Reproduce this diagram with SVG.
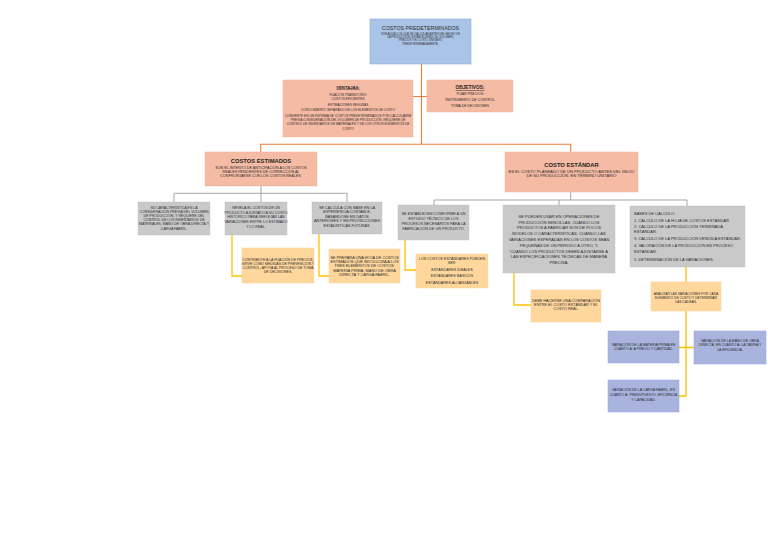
<svg xmlns="http://www.w3.org/2000/svg" width="768" height="543" viewBox="0 0 768 543">
<style>
text{font-family:"Liberation Sans",Arial,sans-serif;fill:#2c2c2c;text-anchor:middle}
.top{fill:#a9c4e6;stroke:#8fb0da;stroke-width:0.6}
.sal{fill:#f6bba4;stroke:#f0a98c;stroke-width:0.4}
.gry{fill:#c9c9c9;stroke:#bdbdbd;stroke-width:0.4}
.yel{fill:#ffd79c;stroke:#f7c985;stroke-width:0.4}
.blu{fill:#a8b4de;stroke:#94a3d4;stroke-width:0.5}
.t1{font-size:5.3px}
.tb{font-size:5.8px;font-weight:bold;fill:#222}
.th{font-size:4.2px;font-weight:bold;text-decoration:underline;fill:#222}
.th2{font-size:4.8px;font-weight:bold;text-decoration:underline;fill:#222}
.s28{font-size:2.75px}
.s32{font-size:3.2px}
.s33{font-size:3.3px}
.s35{font-size:3.5px}
.s36{font-size:3.6px}
.s37{font-size:3.7px}
.s38{font-size:3.8px}
.s39{font-size:3.9px}
.s40{font-size:4px}
.s41{font-size:4.1px}
.lft{text-anchor:start}
.co{fill:none;stroke:#ed7d31;stroke-width:1.1}
.cg{fill:none;stroke:#a5a5a5;stroke-width:1}
.cy{fill:none;stroke:#ffc000;stroke-width:1.3}
</style>
<rect width="768" height="543" fill="#ffffff"/>
<g id="connectors">
<path class="co" d="M421.5,64 V144.3 M413,96.5 H427 M260.7,152 V144.3 H570.7 V152"/>
<path class="cg" d="M261,186 V202 M174,202 V193.3 H347 V202"/>
<path class="cg" d="M570.7,192 V200 M434,205 V200 H687 V206 M559,200 V205"/>
<path class="cy" d="M232,235 V276 H242 M319,234 V276 H329 M405,240 V270 H416 M514,273 V305 H531"/>
<path class="cy" d="M686,267 V282 M686,311 V396 H679 M679,347.5 H694"/>
</g>
<g id="n-predeterminados">
<rect class="top" x="370" y="19" width="101" height="45"/>
<text class="t1" x="420.5" y="30.3">COSTOS PREDETERMINADOS</text>
<text class="s28" x="420.5" y="35">SON AQUELLOS QUE SE CALCULAN ANTES DEL HECHO DE</text>
<text class="s28" x="420.5" y="38.2">LA PRODUCCIÓN, ESTABLECIENDO EL VOLUMEN,</text>
<text class="s28" x="420.5" y="41.4">PRECIOS Y EL COSTO UNITARIO</text>
<text class="s28" x="420.5" y="45">PREDETERMINADAMENTE.</text>
</g>
<g id="n-ventajas">
<rect class="sal" x="283" y="80" width="130" height="57"/>
<text class="th" x="348" y="88.5">VENTAJAS:</text>
<text class="s32" x="348" y="96">FIJACIÓN TRANSITORIO</text>
<text class="s32" x="348" y="100.3">COSTOS EFICIENTES</text>
<text class="s32" x="348" y="106">ESTIMACIONES SEGURAS</text>
<text class="s32" x="348" y="110.8">CONOCIMIENTO SEPARADO DE LOS ELEMENTOS DE COSTO</text>
<text class="s32" x="348" y="117">CONVIERTE EN UN SISTEMA DE COSTOS PREDETERMINADOS POR CALCULARSE</text>
<text class="s32" x="348" y="121">PREVIA CONSIDERACIÓN DEL VOLUMEN DE PRODUCCIÓN, REQUIERE DE</text>
<text class="s32" x="348" y="125">CONTROL DE INVENTARIOS DE MATERIALES Y DE LOS OTROS ELEMENTOS DE</text>
<text class="s32" x="348" y="129.5">COSTO</text>
</g>
<g id="n-objetivos">
<rect class="sal" x="427" y="80" width="86" height="32"/>
<text class="th2" x="470" y="89">OBJETIVOS:</text>
<text class="s35" x="470" y="95.3">FIJAR PRECIOS</text>
<text class="s35" x="470" y="101.1">INSTRUMENTO DE CONTROL</text>
<text class="s35" x="470" y="107.1">TOMA DE DECISIONES</text>
</g>
<g id="n-estimados">
<rect class="sal" x="205" y="152" width="112" height="34"/>
<text class="tb" x="261" y="163.4">COSTOS ESTIMADOS</text>
<text class="s37" x="261" y="168.5">SON EL INTENTO DE ANTICIPACIÓN A LOS COSTOS</text>
<text class="s37" x="261" y="172.6">REALES PENDIENTES DE CORRECCIÓN AL</text>
<text class="s37" x="261" y="176.8">CONFRONTARSE CON LOS COSTOS REALES.</text>
</g>
<g id="n-estandar">
<rect class="sal" x="505" y="152" width="133" height="40"/>
<text class="tb" x="571.5" y="167.3">COSTO ESTÁNDAR</text>
<text class="s41" x="571.5" y="173.4">ES EL COSTO PLANEADO DE UN PRODUCTO ANTES DEL INICIO</text>
<text class="s41" x="571.5" y="177.2">DE SU PRODUCCIÓN, EN TÉRMINO UNITARIO</text>
</g>
<g id="n-caracteristica">
<rect class="gry" x="138" y="202" width="72" height="33"/>
<text class="s35" x="174" y="209.2">SU CARACTERÍSTICA ES LA</text>
<text class="s35" x="174" y="213.2">CONSIDERACIÓN PREVIA DEL VOLUMEN</text>
<text class="s35" x="174" y="217.4">DE PRODUCCIÓN, Y REQUIERE DEL</text>
<text class="s35" x="174" y="221.4">CONTROL DE LOS INVENTARIOS DE</text>
<text class="s35" x="174" y="225.4">MATERIALES, MANO DE OBRA DIRECTA Y</text>
<text class="s35" x="174" y="229.6">CARGA FABRIL.</text>
</g>
<g id="n-revela">
<rect class="gry" x="225" y="202" width="62" height="33"/>
<text class="s36" x="256" y="209.4">REVELA EL COSTOS DE UN</text>
<text class="s36" x="256" y="213.8">PRODUCTO AJUSTADO A SU COSTO</text>
<text class="s36" x="256" y="218.4">HISTÓRICO PARA REFLEJAR LAS</text>
<text class="s36" x="256" y="223.2">VARIACIONES ENTRE LO ESTIMADO</text>
<text class="s36" x="256" y="228.4">Y LO REAL.</text>
</g>
<g id="n-calcula">
<rect class="gry" x="312" y="202" width="70" height="32"/>
<text class="s38" x="347" y="209.2">SE CALCULA CON BASE EN LA</text>
<text class="s38" x="347" y="213.2">EXPERIENCIA CONTABLE,</text>
<text class="s38" x="347" y="217.5">BASÁNDOSE EN DATOS</text>
<text class="s38" x="347" y="222.4">ANTERIORES Y EN PROYECCIONES</text>
<text class="s38" x="347" y="227.4">ESTADÍSTICAS FUTURAS.</text>
</g>
<g id="n-contribuye">
<rect class="yel" x="242" y="248" width="72" height="35"/>
<text class="s35" x="278" y="261">CONTRIBUYE A LA FIJACIÓN DE PRECIOS,</text>
<text class="s35" x="278" y="265">SIRVE COMO MEDIDAS DE PREVENCIÓN Y</text>
<text class="s35" x="278" y="269">CONTROL, APOYA AL PROCESO DE TOMA</text>
<text class="s35" x="278" y="273.2">DE DECISIONES.</text>
</g>
<g id="n-hoja">
<rect class="yel" x="329" y="249" width="71" height="34"/>
<text class="s39" x="364.5" y="258.6">SE PREPARA UNA HOJA DE COSTOS</text>
<text class="s39" x="364.5" y="263.1">ESTIMADOS QUE INVOLUCRA A LOS</text>
<text class="s39" x="364.5" y="267.4">TRES ELEMENTOS DE COSTOS:</text>
<text class="s39" x="364.5" y="271.7">MATERIA PRIMA, MANO DE OBRA</text>
<text class="s39" x="364.5" y="276.1">DIRECTA Y CARGA FABRIL.</text>
</g>
<g id="n-establecen">
<rect class="gry" x="398" y="205" width="71" height="35"/>
<text class="s38" x="433.5" y="215.3">SE ESTABLECEN CONFORME A UN</text>
<text class="s38" x="433.5" y="220">ESTUDIO TÉCNICO DE LOS</text>
<text class="s38" x="433.5" y="224.9">PROCESOS NECESARIOS PARA LA</text>
<text class="s38" x="433.5" y="230.1">FABRICACIÓN DE UN PRODUCTO.</text>
</g>
<g id="n-pueden-ser">
<rect class="yel" x="416" y="254" width="72" height="34"/>
<text class="s37" x="452" y="259.5">LOS COSTOS ESTÁNDARES PUEDEN</text>
<text class="s37" x="452" y="263.5">SER:</text>
<text class="s37" x="452" y="271.1">ESTÁNDARES IDEALES</text>
<text class="s37" x="452" y="277.1">ESTÁNDARES BÁSICOS</text>
<text class="s37" x="452" y="283.5">ESTÁNDARES ALCANZABLES</text>
</g>
<g id="n-usar">
<rect class="gry" x="503" y="205" width="112" height="68"/>
<text class="s41" x="559" y="217.7">SE PUEDEN USAR EN OPERACIONES DE</text>
<text class="s41" x="559" y="223.5">PRODUCCIÓN SENCILLAS, CUANDO LOS</text>
<text class="s41" x="559" y="229.3">PRODUCTOS A FABRICAR SON DE POCOS</text>
<text class="s41" x="559" y="235.1">MODELOS O CARACTERÍSTICAS, CUANDO LAS</text>
<text class="s41" x="559" y="240.9">VARIACIONES ESPERADAS EN LOS COSTOS SEAN</text>
<text class="s41" x="559" y="246.7">PEQUEÑAS DE UN PERIODO A OTRO, Y,</text>
<text class="s41" x="559" y="252.5">CUANDO LOS PRODUCTOS DEBEN AJUSTARSE A</text>
<text class="s41" x="559" y="258.3">LAS ESPECIFICACIONES TÉCNICAS DE MANERA</text>
<text class="s41" x="559" y="264.1">PRECISA.</text>
</g>
<g id="n-comparacion">
<rect class="yel" x="531" y="290" width="70" height="32"/>
<text class="s38" x="566" y="301.6">DEBE HACERSE UNA COMPARACIÓN</text>
<text class="s38" x="566" y="306">ENTRE EL COSTO ESTÁNDAR Y EL</text>
<text class="s38" x="566" y="310.4">COSTO REAL.</text>
</g>
<g id="n-bases">
<rect class="gry" x="630" y="206" width="115" height="61"/>
<text class="s40 lft" x="634" y="215.1">BASES DE CÁLCULO:</text>
<text class="s40 lft" x="634" y="221.7">1. CÁLCULO DE LA HOJA DE COSTOS ESTÁNDAR.</text>
<text class="s40 lft" x="634" y="228.4">2. CÁLCULO DE LA PRODUCCIÓN TERMINADA</text>
<text class="s40 lft" x="634" y="232.8">ESTÁNDAR.</text>
<text class="s40 lft" x="634" y="240.4">3. CÁLCULO DE LA PRODUCCIÓN VENDIDA ESTÁNDAR.</text>
<text class="s40 lft" x="634" y="247.1">4. VALORACIÓN DE LA PRODUCCIÓN EN PROCESO</text>
<text class="s40 lft" x="634" y="253.4">ESTÁNDAR.</text>
<text class="s40 lft" x="634" y="261.1">5. DETERMINACIÓN DE LA VARIACIONES.</text>
</g>
<g id="n-analizar">
<rect class="yel" x="651" y="282" width="70" height="29"/>
<text class="s33" x="686" y="294.8">ANALIZAR LAS VARIACIONES POR CADA</text>
<text class="s33" x="686" y="298.6">ELEMENTO DE COSTO Y DETERMINAR</text>
<text class="s33" x="686" y="302.8">LAS CAUSAS.</text>
</g>
<g id="n-materia">
<rect class="blu" x="608" y="331" width="71" height="32"/>
<text class="s35" x="643.5" y="346.2">VARIACIÓN DE LA MATERIA PRIMA EN</text>
<text class="s35" x="643.5" y="350.2">CUANTO A: A PRECIO Y CANTIDAD.</text>
</g>
<g id="n-mano">
<rect class="blu" x="694" y="331" width="72" height="33"/>
<text class="s35" x="730" y="342.2">VARIACIÓN DE LA MANO DE OBRA</text>
<text class="s35" x="730" y="346.2">DIRECTA, EN CUANTO A: LA TARIFA Y</text>
<text class="s35" x="730" y="350.8">LA EFICIENCIA.</text>
</g>
<g id="n-carga">
<rect class="blu" x="608" y="380" width="71" height="32"/>
<text class="s35" x="643.5" y="391.2">VARIACIÓN DE LA CARGA FABRIL, EN</text>
<text class="s35" x="643.5" y="396">CUANTO A: PRESUPUESTO, EFICIENCIA</text>
<text class="s35" x="643.5" y="401">Y CAPACIDAD.</text>
</g>
</svg>
